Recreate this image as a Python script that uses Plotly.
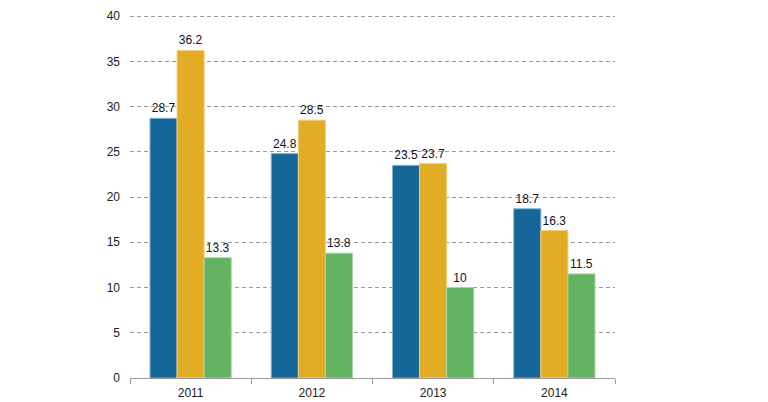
import plotly.graph_objects as go

years = ["2011", "2012", "2013", "2014"]
series_a = [28.7, 24.8, 23.5, 18.7]
series_b = [36.2, 28.5, 23.7, 16.3]
series_c = [13.3, 13.8, 10, 11.5]
y_ticks = [0, 5, 10, 15, 20, 25, 30, 35, 40]

colors = ["#15679A", "#E2AD24", "#62B462"]
borders = ["#7FB0D0", "#F0CF7A", "#A6D8A6"]

fig = go.Figure()
for vals, c, b in zip([series_a, series_b, series_c], colors, borders):
    fig.add_trace(go.Bar(
        x=years, y=vals,
        marker=dict(color=c, line=dict(color=b, width=1)),
        text=[f"{v:g}" for v in vals],
        textposition="outside",
        textfont=dict(family="Liberation Sans, Arial", size=12, color="#111122"),
        cliponaxis=False,
    ))

fig.update_layout(
    width=768, height=402,
    margin=dict(l=130, r=153, t=15, b=24, autoexpand=False),
    paper_bgcolor="white", plot_bgcolor="white",
    barmode="group", bargap=0.33, bargroupgap=0,
    showlegend=False,
    font=dict(family="Liberation Sans, Arial", size=12, color="#222"),
    uniformtext=dict(minsize=12, mode="show"),
)
fig.update_xaxes(
    showline=True, linecolor="#999", linewidth=1, automargin=False,
    ticks="outside", tickson="boundaries", ticklen=5, tickcolor="#999",
    ticklabelstandoff=4,
    showgrid=False, tickfont=dict(size=12, color="#222"),
)
fig.update_yaxes(
    range=[0, 40.12], tickvals=y_ticks, showline=False, automargin=False,
    showgrid=True, gridcolor="#999", griddash="4px,3px", gridwidth=1,
    zeroline=False, ticks="", ticklabelstandoff=9,
    tickfont=dict(size=12, color="#222"),
)
fig.write_html("out.html", config={"displayModeBar": False},
               post_script="document.body.style.margin='0';document.body.style.overflow='hidden';")
